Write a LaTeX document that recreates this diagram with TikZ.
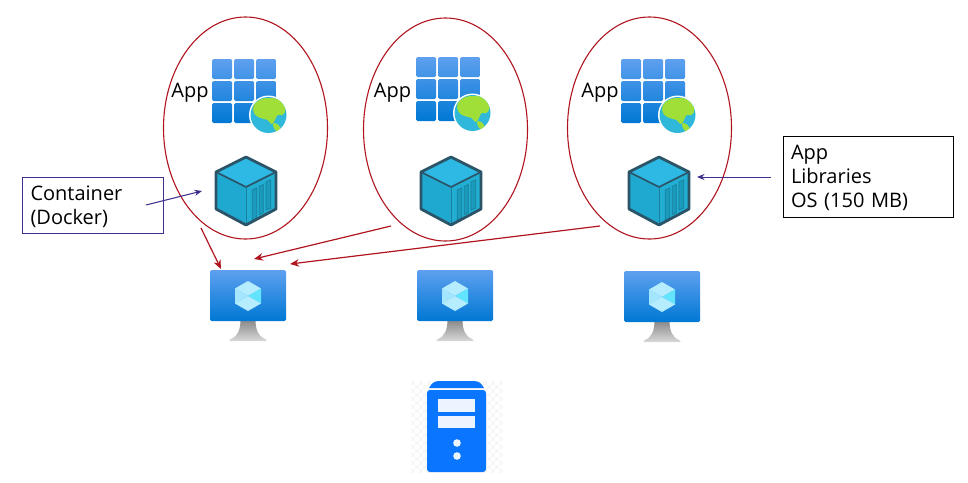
\documentclass[tikz,border=0pt]{standalone}
\usepackage{fontspec}
\setmainfont{Open Sans}
\usetikzlibrary{arrows.meta,shapes.geometric}
\definecolor{ringred}{HTML}{B0151F}
\definecolor{notepurple}{HTML}{3D2E8C}
\definecolor{azuretop}{HTML}{5EA0EF}
\definecolor{azurebot}{HTML}{0078D4}
\definecolor{boxdark}{HTML}{2B5468}
\definecolor{serverblue}{HTML}{0A75FF}
\definecolor{globesea}{HTML}{2FB8DA}
\definecolor{globeland}{HTML}{A0DE38}
\definecolor{ctrtop}{HTML}{2DB9E4}
\definecolor{ctrleft}{HTML}{1FA9D0}
\definecolor{ctrright}{HTML}{22ADD2}
\definecolor{ctrvent}{HTML}{1A9ABC}
\definecolor{ctrventline}{HTML}{197F9B}
\definecolor{hexlight}{HTML}{B5EDFF}
\definecolor{hexmid}{HTML}{A3E6FE}
\definecolor{hexcyan}{HTML}{62E4FF}
\tikzset{
  ring/.style={draw=ringred,line width=1.1pt,ellipse,inner sep=0pt},
  redarrow/.style={draw=ringred,line width=1.2pt,-{Stealth[length=9pt,width=7.5pt]}},
  purplearrow/.style={draw=notepurple,line width=1pt,-{Stealth[length=7.5pt,width=6pt]}},
  applabel/.style={font=\fontsize{20}{24}\selectfont,inner sep=0pt,anchor=center},
  notebox/.style={draw,line width=1pt,inner xsep=8pt,inner ysep=0pt,outer sep=0pt,align=left,anchor=north west,
    font=\fontsize{20}{24}\selectfont},
  appicon/.pic={
    \begin{scope}
      \clip[rounded corners=1.5pt]
        (0,0) rectangle (20,20) (22,0) rectangle (42,20) (44,0) rectangle (64,20)
        (0,22) rectangle (20,42) (22,22) rectangle (42,42) (44,22) rectangle (64,42)
        (0,44) rectangle (20,64) (22,44) rectangle (42,64) (44,44) rectangle (64,64);
      \shade[top color=azuretop,bottom color=azurebot] (0,0) rectangle (64,64);
    \end{scope}
    \fill[white] (56.5,56) circle (19.5);
    \begin{scope}[shift={(56.5,56)}]
      \clip (0,0) circle (18);
      \fill[globesea] (-19,-19) rectangle (19,19);
      \fill[globeland] plot[smooth cycle,tension=0.6] coordinates
        {(-15,-9) (-8,-15.5) (2,-17) (11,-15) (17,-6) (14,0) (9,0) (6,6) (3,9) (-1,5) (-8,3) (-14,-1)};
      \fill[globeland] plot[smooth cycle,tension=0.6] coordinates
        {(5,8) (10,10) (13,16) (8,16) (5,12)};
    \end{scope}
  },
  containericon/.pic={
    \fill[ctrtop] (0,0) -- (30,15) -- (0,30) -- (-30,15) -- cycle;
    \fill[ctrleft] (-30,15) -- (0,30) -- (0,68) -- (-30,52) -- cycle;
    \fill[ctrright] (30,15) -- (0,30) -- (0,68) -- (30,52) -- cycle;
    \foreach \xa/\xb/\ya/\yb in {6.3/10.7/33/63, 13.3/17.3/29.5/57.5, 20/24.7/25/53}{
      \filldraw[draw=ctrventline,fill=ctrvent,line width=0.7pt]
        (\xa,\ya) -- (\xb,\ya-2) -- (\xb,\yb-2) -- (\xa,\yb) -- cycle;
    }
    \draw[ctrventline,line width=1pt] (0,30) -- (0,68);
    \draw[boxdark,line width=1.6pt,line join=round] (-30,15) -- (0,30) -- (30,15);
    \draw[boxdark,line width=2.8pt,line join=round]
      (0,0) -- (30,15) -- (30,52) -- (0,68) -- (-30,52) -- (-30,15) -- cycle;
  },
  vmicon/.pic={
    \shade[top color=black!45,bottom color=black!15]
      (30.5,51) -- (45.5,51) .. controls (46,60) and (48,66) .. (55,69)
      .. controls (57,70) and (57,71) .. (56,71) -- (20,71)
      .. controls (19,71) and (19,70) .. (21,69)
      .. controls (28,66) and (30,60) .. (30.5,51) -- cycle;
    \shade[top color=azuretop,bottom color=azurebot,rounded corners=1.5pt] (0,0) rectangle (76,51);
    \fill[hexlight] (38,11) -- (51,18.5) -- (38,26) -- (25,18.5) -- cycle;
    \fill[hexmid] (25,18.5) -- (38,26) -- (25,33.5) -- cycle;
    \fill[hexcyan] (51,18.5) -- (51,33.5) -- (38,26) -- cycle;
    \fill[hexlight] (38,26) -- (51,33.5) -- (38,41) -- (25,33.5) -- cycle;
  },
}
\begin{document}
\begin{tikzpicture}[x=1pt,y=-1pt]
\useasboundingbox (0,0) rectangle (968,482);
\fill[white] (0,0) rectangle (968,482);

% server (faint checker background)
\foreach \i in {0,...,22}{\foreach \j in {0,...,22}{
  \pgfmathparse{int(mod(\i+\j,2))}
  \ifnum\pgfmathresult=0
    \fill[black!3] (411+4*\i,381+4*\j) rectangle ++(4,4);
  \fi
}}
\fill[serverblue] (429,388) .. controls (432,383) and (434,381) .. (440,381) -- (473,381)
  .. controls (479,381) and (481,383) .. (484,388) -- cycle;
\fill[serverblue,rounded corners=3pt] (427,390) rectangle (486,472);
\fill[white!92!serverblue] (438,399) rectangle (475,412);
\fill[white!92!serverblue] (438,416) rectangle (475,428);
\fill[white!92!serverblue] (457,443) circle (3.8);
\fill[white!92!serverblue] (457,456) circle (3.8);

% virtual machines
\pic (vma) at (210,270) {vmicon};
\pic (vmb) at (417,270) {vmicon};
\pic (vmc) at (624,271) {vmicon};

% app icons
\pic (appa) at (212,59) {appicon};
\pic (appb) at (416,57) {appicon};
\pic (appc) at (621,59) {appicon};

% containers
\pic (ctra) at (246,157) {containericon};
\pic (ctrb) at (451,157) {containericon};
\pic (ctrc) at (659,157) {containericon};

% rings
\node[ring,minimum width=164pt,minimum height=222pt] (ringa) at (245.5,128) {};
\node[ring,minimum width=164pt,minimum height=223pt] (ringb) at (445.5,129.5) {};
\node[ring,minimum width=164pt,minimum height=222pt] (ringc) at (649.5,128) {};

% labels
\node[applabel] (labela) at (190,92.5) {App};
\node[applabel] (labelb) at (392.5,92.5) {App};
\node[applabel] (labelc) at (600,92.5) {App};

\node[notebox,draw=notepurple,text width=125pt,minimum height=56.5pt] (boxcontainer) at (22.5,177)
  {\rule{0pt}{17pt}Container\\(Docker)};
\node[notebox,draw=black,text width=154pt,minimum height=81pt] (boxstack) at (783,136.5)
  {\rule{0pt}{17pt}App\\Libraries\\OS (150 MB)};

% connector ends
\coordinate (startone) at (201,228);
\coordinate (endone) at (221,269);
\coordinate (starttwo) at (391,226);
\coordinate (endtwo) at (254,259);
\coordinate (startthree) at (600,226);
\coordinate (endthree) at (290,264);
\coordinate (notestart) at (146,205);
\coordinate (noteend) at (202,191);
\coordinate (stackstart) at (771,177);
\coordinate (stackend) at (697,177);

\draw[redarrow] (startone) -- (endone);
\draw[redarrow] (starttwo) -- (endtwo);
\draw[redarrow] (startthree) -- (endthree);
\draw[purplearrow] (notestart) -- (noteend);
\draw[purplearrow] (stackstart) -- (stackend);
\end{tikzpicture}
\end{document}
